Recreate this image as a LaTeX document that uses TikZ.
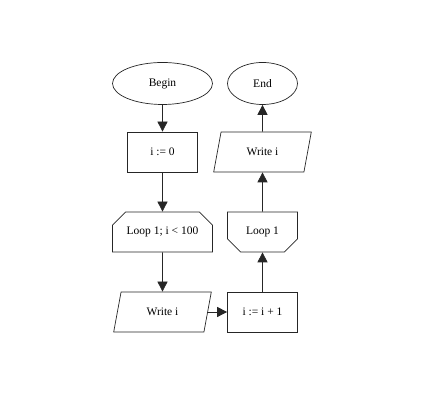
\documentclass[tikz,border=0pt]{standalone}
\usepackage{fontspec}
\setmainfont{Liberation Serif}
\usetikzlibrary{shapes.geometric, shapes.misc, arrows.meta}

\tikzset{
	terminal/.style={draw=black!85, line width=0.7pt, ellipse, minimum width=100pt, minimum height=42pt, inner sep=0pt},
	process/.style={draw=black!85, line width=0.7pt, rectangle, minimum width=70pt, minimum height=40pt, inner sep=0pt},
	io/.style={draw=black!85, line width=0.7pt, trapezium, trapezium left angle=70, trapezium right angle=110, trapezium stretches=true, minimum width=98pt, minimum height=40pt, inner sep=0pt},
	loopbox/.style={draw=black!85, line width=0.7pt, chamfered rectangle, chamfered rectangle xsep=10pt, chamfered rectangle ysep=8pt, minimum height=40pt, inner sep=0pt},
	flow/.style={->, draw=black!85, line width=0.7pt}
}

\begin{document}
\begin{tikzpicture}[node distance=80pt, x=1pt, y=1pt, >={Triangle[length=10pt, width=10pt]}, font=\fontsize{11.5}{13}\selectfont]
	\useasboundingbox (0,0) rectangle (429,411);

		% Left column
		\node[terminal] (begin_node) at (162.5,327.5) {Begin};
		\node[process, below of=begin_node, yshift=11.5pt] (init_box) {i := 0};
		\node[loopbox, chamfered rectangle corners={north west, north east}, minimum width=100pt, below of=init_box] (loop_start) {Loop 1; i {\textless} 100};
		\node[io, below of=loop_start] (write_left) {Write i};

		% Right column
		\node[process, right of=write_left, xshift=20pt] (incr_box) {i := i + 1};
		\node[loopbox, chamfered rectangle corners={south west, south east}, minimum width=70pt, right of=loop_start, xshift=20pt] (loop_end) {Loop 1};
		\node[io, right of=init_box, xshift=20pt] (write_right) {Write i};
		\node[terminal, minimum width=70pt, right of=begin_node, xshift=20pt] (end_node) {End};

		% Arrows
		\draw[flow] (begin_node) -- (init_box);
		\draw[flow] (init_box) -- (loop_start);
		\draw[flow] (loop_start) -- (write_left);
		\draw[flow] (write_left) -- (incr_box);
		\draw[flow] (incr_box) -- (loop_end);
		\draw[flow] (loop_end) -- (write_right);
		\draw[flow] (write_right) -- (end_node);
\end{tikzpicture}
\end{document}
